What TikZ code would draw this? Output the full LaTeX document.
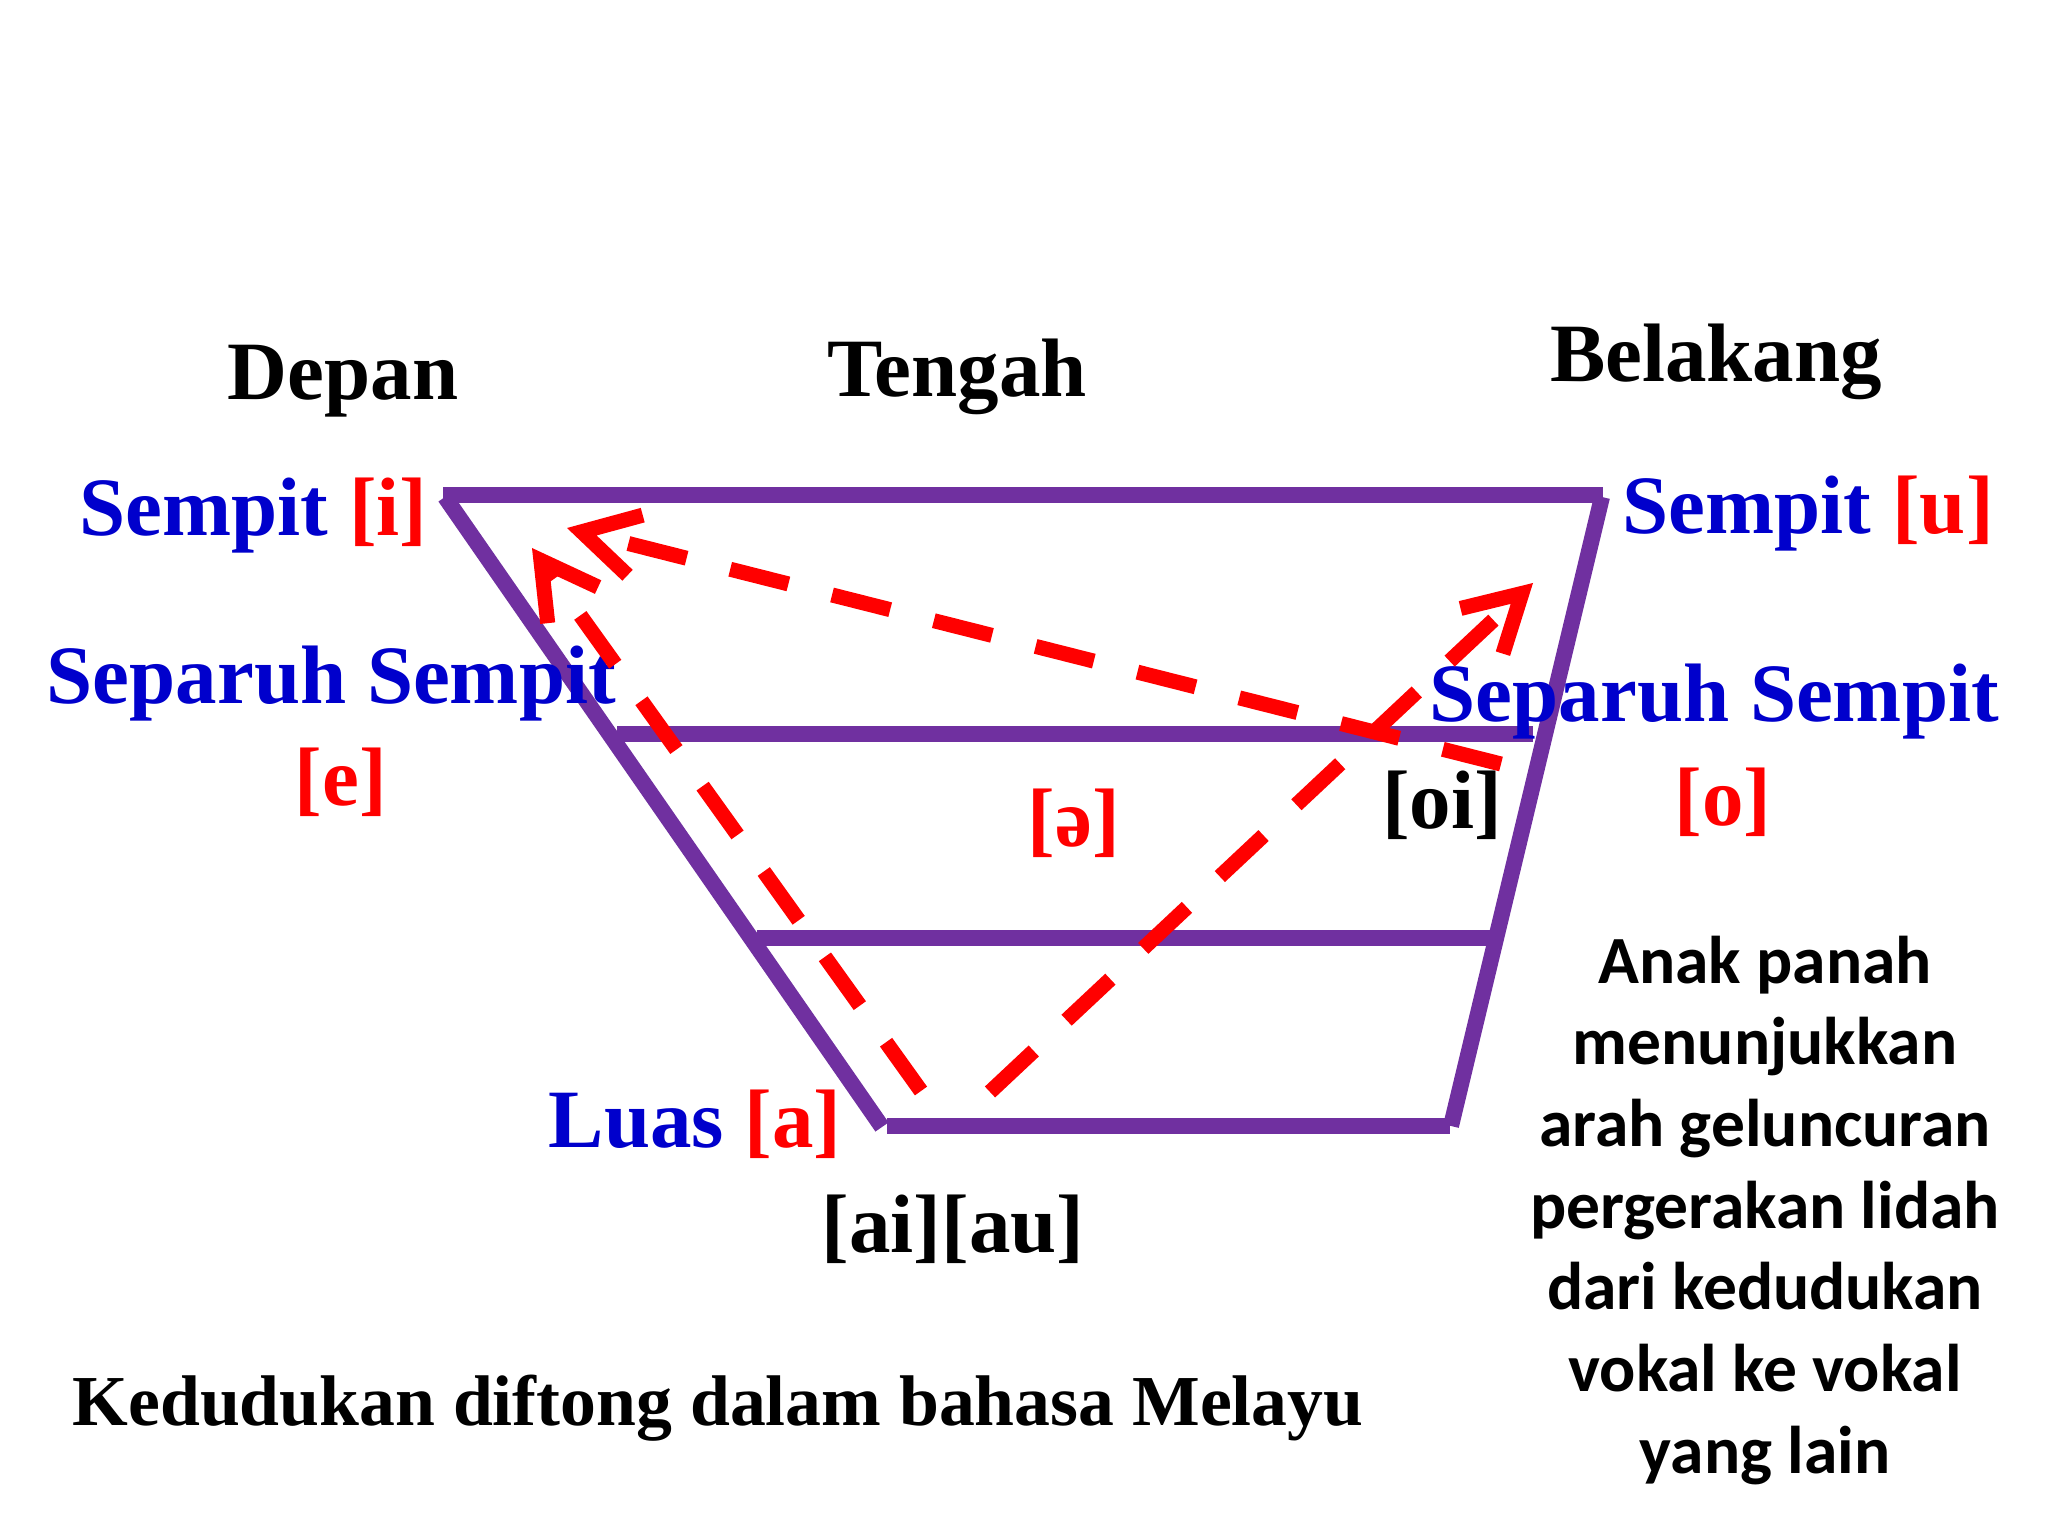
\documentclass[tikz,border=0pt]{standalone}
\usepackage{fontspec}
\setmainfont{Liberation Serif}
\newfontfamily\notefont{Carlito}
\usepackage{xcolor}
\usetikzlibrary{arrows.meta}
\definecolor{framepurple}{HTML}{7030A0}
\definecolor{heightblue}{HTML}{0000CC}
\tikzset{
  every node/.style = {font = \fontsize{23.6}{28}\selectfont\bfseries, inner sep=0pt}
}
\tikzset{
  frame line/.style = {draw=framepurple, line width=1.6mm}
}
\tikzset{
  glide arrow/.style = {draw=red, line width=1.5mm, dash pattern=on 6mm off 4.5mm,
    -{Straight Barb[length=5.5mm, width=6.2mm]}}
}
\tikzset{
  note line/.style = {font = \notefont\fontsize{19.2}{23}\selectfont\bfseries}
}
\newcommand{\hgt}[1]{\textcolor{heightblue}{#1}}
\newcommand{\vok}[1]{\textcolor{red}{#1}}

\begin{document}
\begin{tikzpicture}
  \useasboundingbox (0,0) rectangle (20.48,-15.36);

  % Vowel frame
  \draw[frame line] (4.43,-4.95) -- (16.03,-4.95);
  \draw[frame line] (4.45,-4.97) -- (8.82,-11.27);
  \draw[frame line] (8.87,-11.26) -- (14.50,-11.26);
  \draw[frame line] (16.02,-4.97) -- (14.51,-11.26);
  \draw[frame line] (6.17,-7.34) -- (15.33,-7.34);
  \draw[frame line] (7.57,-9.38) -- (14.91,-9.38);

  % Column heads
  \node[anchor=base] (depan) at (3.43,-4.00) {Depan};
  \node[anchor=base] (tengah) at (9.57,-3.96) {Tengah};
  \node[anchor=base] (belakang) at (17.16,-3.82) {Belakang};

  % Height labels
  \node[anchor=base east] (sempitI) at (4.28,-5.36) {\hgt{Sempit} \vok{[i]}};
  \node[anchor=base west] (separuhL) at (0.46,-7.04) {\hgt{Separuh Sempit}};
  \node[anchor=base] (vowelE) at (3.41,-8.05) {\vok{[e]}};
  \node[anchor=base west] (sempitU) at (16.22,-5.34) {\hgt{Sempit} \vok{[u]}};
  \node[anchor=base west] (separuhR) at (14.29,-7.21) {\hgt{Separuh Sempit}};
  \node[anchor=base] (vowelO) at (17.23,-8.26) {\vok{[o]}};
  \node[anchor=base] (schwa) at (10.74,-8.46) {\vok{[ə]}};
  \node[anchor=base] (oi) at (14.42,-8.28) {[oi]};
  \node[anchor=base west] (luas) at (5.48,-11.47) {\hgt{Luas} \vok{[a]}};
  \node[anchor=base] (aiau) at (9.53,-12.52) {[ai][au]};

  % Glides
  \coordinate (startA) at (9.21,-10.91);
  \coordinate (startB) at (9.90,-10.92);
  \coordinate (startC) at (15.01,-7.64);
  \coordinate (tipA) at (5.32,-5.48);
  \coordinate (tipB) at (15.33,-5.83);
  \coordinate (tipC) at (5.67,-5.28);
  \draw[glide arrow] (startA) -- (tipA);
  \draw[glide arrow] (startB) -- (tipB);
  \draw[glide arrow] (startC) -- (tipC);

  % Caption
  \node[anchor=base, font=\fontsize{20.4}{25}\selectfont\bfseries] (caption)
    at (7.18,-14.25) {Kedudukan diftong dalam bahasa Melayu};

  % Note
  \foreach \txt [count=\k] in {Anak panah, menunjukkan, arah geluncuran,
      pergerakan lidah, dari kedudukan, vokal ke vokal, yang lain} {
    \node[note line, anchor=base] (note\k) at (17.65,{-9.83-0.8167*(\k-1)}) {\txt};
  }
\end{tikzpicture}
\end{document}
